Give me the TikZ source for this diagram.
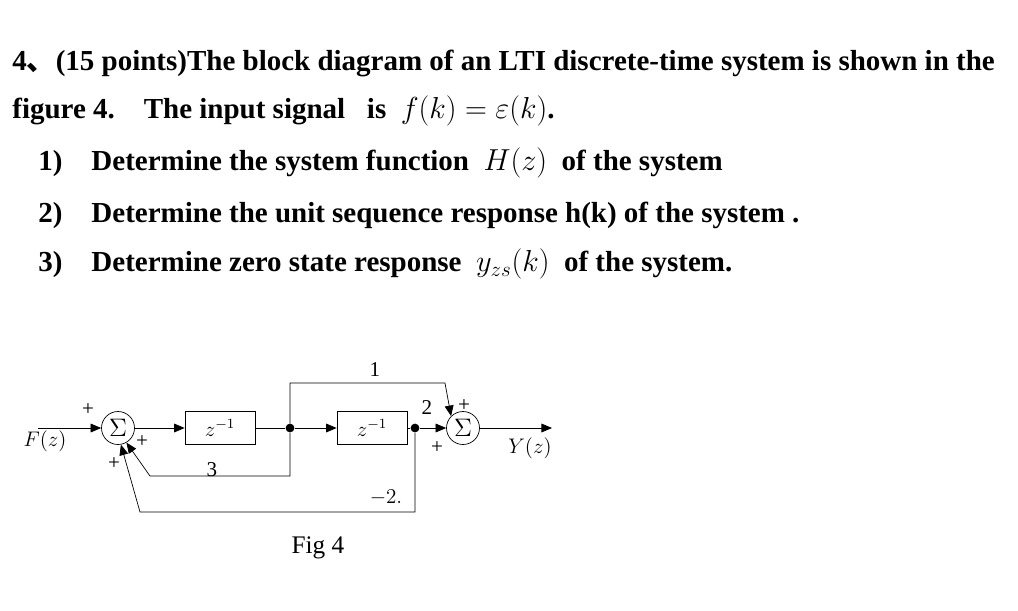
\documentclass[tikz,border=0pt]{standalone}
\usepackage{fontspec}
\setmainfont{Liberation Serif}
\newfontfamily\cjk{Noto Sans CJK SC}
\usetikzlibrary{arrows.meta,positioning}

\begin{document}
\begin{tikzpicture}[
    x=0.02cm, y=-0.02cm,
    txt/.style={anchor=west, inner sep=0, font=\fontsize{16.5}{19}\selectfont\bfseries},
    adder/.style={circle, draw, minimum size=0.66cm, inner sep=0, font=\Large},
    delay/.style={rectangle, draw, minimum width=1.4cm, minimum height=0.66cm, font=\large},
    dot/.style={circle, fill, inner sep=0, minimum size=5pt},
    lab/.style={font=\large, inner sep=1pt},
    >={Triangle[length=6pt,width=5pt]}
]
\useasboundingbox (0,0) rectangle (1018,610);

% question text
\node[txt] at (12,63) {4{\cjk 、}(15 points)The block diagram of an LTI discrete-time system is shown in the};
\node[txt] at (12,111) {figure 4.\quad The input signal \ \ is \ $f(k)=\varepsilon(k)$.};
\node[txt] at (38,163) {1)\quad Determine the system function \ $H(z)$ \ of the system};
\node[txt] at (38,215) {2)\quad Determine the unit sequence response h(k) of the system .};
\node[txt] at (38,264) {3)\quad Determine zero state response \ $y_{zs}(k)$ \ of the system.};

% blocks
\node[adder] (sum1) at (118,428) {$\Sigma$};
\node[delay] (d1) at (220,428) {$z^{-1}$};
\node[dot] (j1) at (290,428) {};
\node[delay] (d2) at (372,428) {$z^{-1}$};
\node[dot] (j2) at (415,428) {};
\node[adder] (sum2) at (463,428) {$\Sigma$};
\coordinate (in) at (38,428);
\coordinate (out) at (552,428);
\coordinate (c1) at (290,383);
\coordinate (c2) at (445,383);
\coordinate (c3) at (290,476);
\coordinate (c4) at (150,476);
\coordinate (c5) at (415,512);
\coordinate (c6) at (140,512);

\draw[->] (in) -- (sum1);
\draw[->] (sum1) -- (d1);
\draw (d1) -- (j1);
\draw[->] (j1) -- (d2);
\draw (d2) -- (j2);
\draw[->] (j2) -- (sum2);
\draw[->] (sum2) -- (out);
\draw[->] (j1) -- (c1) -- (c2) -- (sum2.135);
\draw[->] (j1) -- (c3) -- (c4) -- (sum1.-60);
\draw[->] (j2) -- (c5) -- (c6) -- (sum1.-80);

% labels
\node[lab] at (45,441) {$F(z)$};
\node[lab] at (530,448) {$Y(z)$};
\node[lab] at (88,410) {+};
\node[lab] at (142,442) {+};
\node[lab] at (114,464) {+};
\node[lab] at (464,406) {+};
\node[lab] at (437,448) {+};
\node[lab] at (375,370) {1};
\node[lab] at (427,408) {2};
\node[lab] at (212,470) {3};
\node[lab] at (386,498) {$-2.$};
\node[lab, font=\Large] at (318,548) {Fig 4};
\end{tikzpicture}
\end{document}
